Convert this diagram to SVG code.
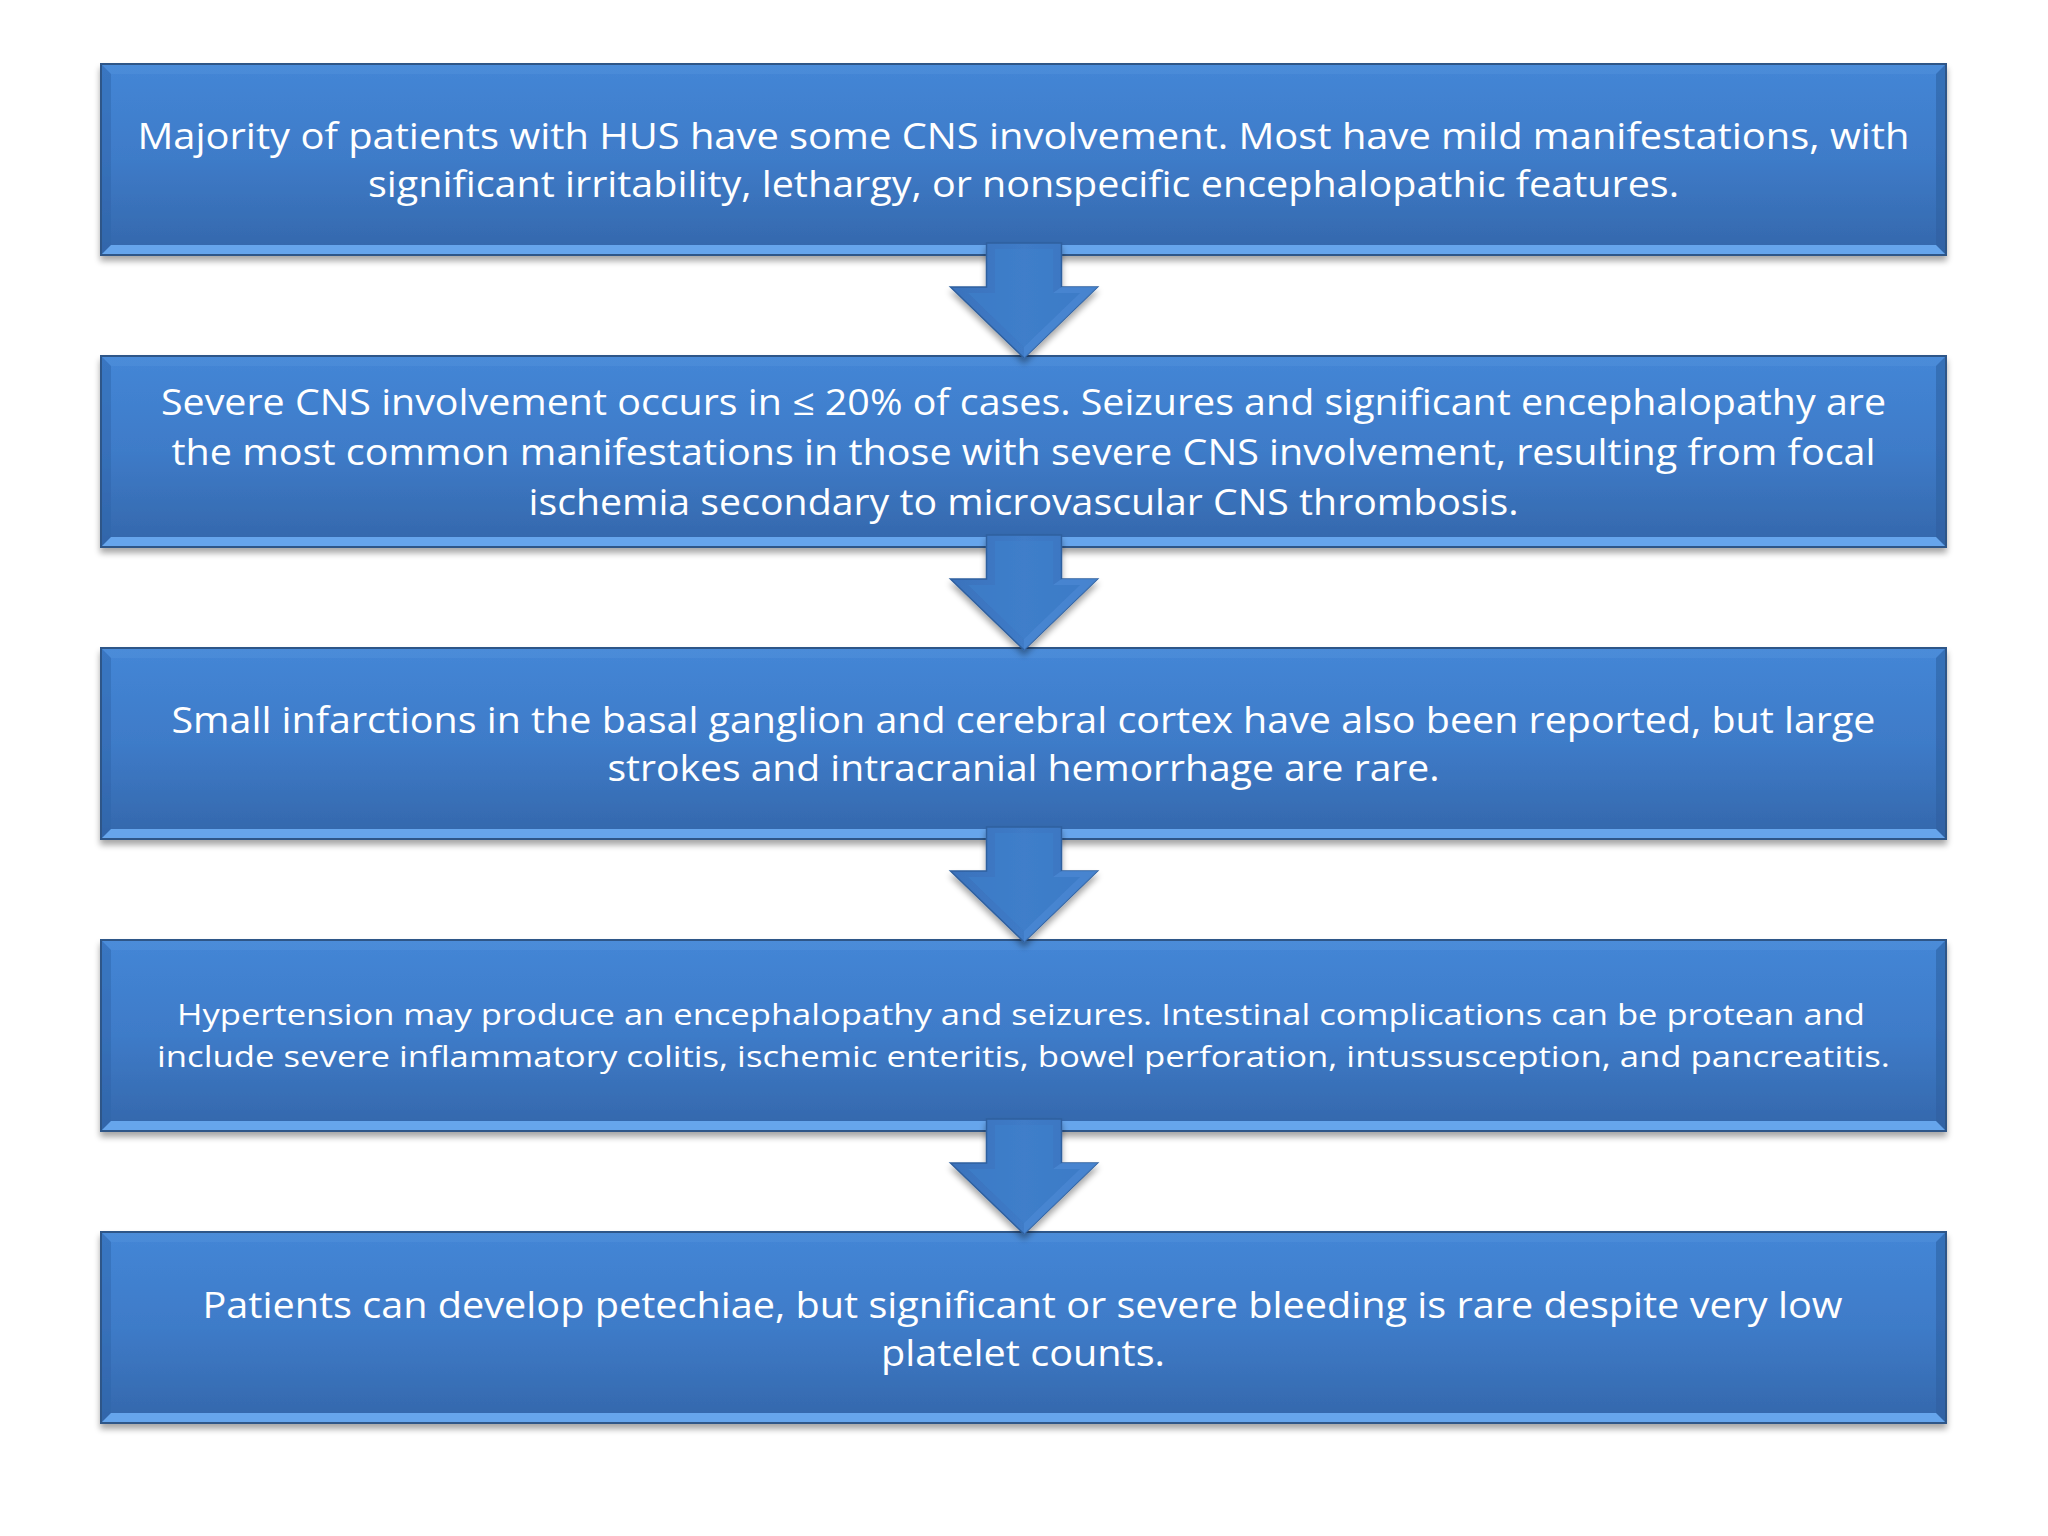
<svg xmlns="http://www.w3.org/2000/svg" xmlns:xlink="http://www.w3.org/1999/xlink" width="2048" height="1536" viewBox="0 0 2048 1536">
<style>
  .t { font-family: "Open Sans", "Liberation Sans", sans-serif; font-size: 36px; fill: #ffffff; text-anchor: middle; }
  .s { font-size: 30px; }
</style>
<defs>
  <linearGradient id="boxGrad" x1="0" y1="0" x2="0" y2="1">
    <stop offset="0" stop-color="#4486d6"/>
    <stop offset="0.5" stop-color="#3e7bc8"/>
    <stop offset="1" stop-color="#3467ab"/>
  </linearGradient>
  <linearGradient id="arrowGrad" x1="0" y1="0" x2="1" y2="0">
    <stop offset="0" stop-color="#3a72bc"/>
    <stop offset="0.5" stop-color="#3f7bc7"/>
    <stop offset="1" stop-color="#3a74bf"/>
  </linearGradient>
  <filter id="shadow" x="-5%" y="-10%" width="110%" height="130%">
    <feGaussianBlur in="SourceAlpha" stdDeviation="3"/>
    <feOffset dx="0" dy="5" result="b"/>
    <feComponentTransfer><feFuncA type="linear" slope="0.35"/></feComponentTransfer>
    <feMerge><feMergeNode/><feMergeNode in="SourceGraphic"/></feMerge>
  </filter>
  <g id="box">
    <rect x="0" y="0" width="1845" height="191" fill="url(#boxGrad)"/>
    <polygon points="0,0 1845,0 1835,10 10,10" fill="#5a98e0" opacity="0.35"/>
    <polygon points="0,0 10,10 10,181 0,191" fill="#2f64a8" opacity="0.45"/>
    <polygon points="1845,0 1835,10 1835,181 1845,191" fill="#2c5e9f" opacity="0.55"/>
    <polygon points="0,191 10,181 1835,181 1845,191" fill="#66a5ec"/>
    <rect x="0" y="0" width="1845" height="191" fill="none" stroke="#2d5688" stroke-width="2"/>
  </g>
  <g id="arrow">
    <path d="M-37.5,0 H37.5 V44 H73.5 L0,115 L-73.5,44 H-37.5 Z" fill="url(#arrowGrad)" stroke="#2f609f" stroke-width="1.5"/>
    <path d="M-29,6 H29 V50 H56 L0,104 L-56,50 H-29 Z" fill="#4080cb" opacity="0.6"/>
    <path d="M37.5,44 H73.5 L0,115 L0,104 L56,50 H29 Z" fill="#4b8ad5" opacity="0.7"/>
  </g>
</defs>

<g id="node1">
  <use xlink:href="#box" x="101" y="64" filter="url(#shadow)"/>
  <text class="t" x="1023.5" y="149" textLength="1772" lengthAdjust="spacingAndGlyphs">Majority of patients with HUS have some CNS involvement. Most have mild manifestations, with</text>
  <text class="t" x="1023.5" y="197" textLength="1311" lengthAdjust="spacingAndGlyphs">significant irritability, lethargy, or nonspecific encephalopathic features.</text>
</g>

<g id="node2">
  <use xlink:href="#box" x="101" y="356" filter="url(#shadow)"/>
  <text class="t" x="1023.5" y="415" textLength="1725" lengthAdjust="spacingAndGlyphs">Severe CNS involvement occurs in ≤ 20% of cases. Seizures and significant encephalopathy are</text>
  <text class="t" x="1023.5" y="465" textLength="1704" lengthAdjust="spacingAndGlyphs">the most common manifestations in those with severe CNS involvement, resulting from focal</text>
  <text class="t" x="1023.5" y="515" textLength="990" lengthAdjust="spacingAndGlyphs">ischemia secondary to microvascular CNS thrombosis.</text>
</g>

<g id="node3">
  <use xlink:href="#box" x="101" y="648" filter="url(#shadow)"/>
  <text class="t" x="1023.5" y="733" textLength="1704" lengthAdjust="spacingAndGlyphs">Small infarctions in the basal ganglion and cerebral cortex have also been reported, but large</text>
  <text class="t" x="1023.5" y="781" textLength="832" lengthAdjust="spacingAndGlyphs">strokes and intracranial hemorrhage are rare.</text>
</g>

<g id="node4">
  <use xlink:href="#box" x="101" y="940" filter="url(#shadow)"/>
  <text class="t s" x="1021" y="1025" textLength="1688" lengthAdjust="spacingAndGlyphs">Hypertension may produce an encephalopathy and seizures. Intestinal complications can be protean and</text>
  <text class="t s" x="1023.5" y="1067" textLength="1733" lengthAdjust="spacingAndGlyphs">include severe inflammatory colitis, ischemic enteritis, bowel perforation, intussusception, and pancreatitis.</text>
</g>

<g id="node5">
  <use xlink:href="#box" x="101" y="1232" filter="url(#shadow)"/>
  <text class="t" x="1022.5" y="1318" textLength="1640" lengthAdjust="spacingAndGlyphs">Patients can develop petechiae, but significant or severe bleeding is rare despite very low</text>
  <text class="t" x="1023" y="1366" textLength="284" lengthAdjust="spacingAndGlyphs">platelet counts.</text>
</g>

<g id="connectors">
  <use xlink:href="#arrow" x="1024" y="243" filter="url(#shadow)"/>
  <use xlink:href="#arrow" x="1024" y="535" filter="url(#shadow)"/>
  <use xlink:href="#arrow" x="1024" y="827" filter="url(#shadow)"/>
  <use xlink:href="#arrow" x="1024" y="1119" filter="url(#shadow)"/>
</g>
</svg>
